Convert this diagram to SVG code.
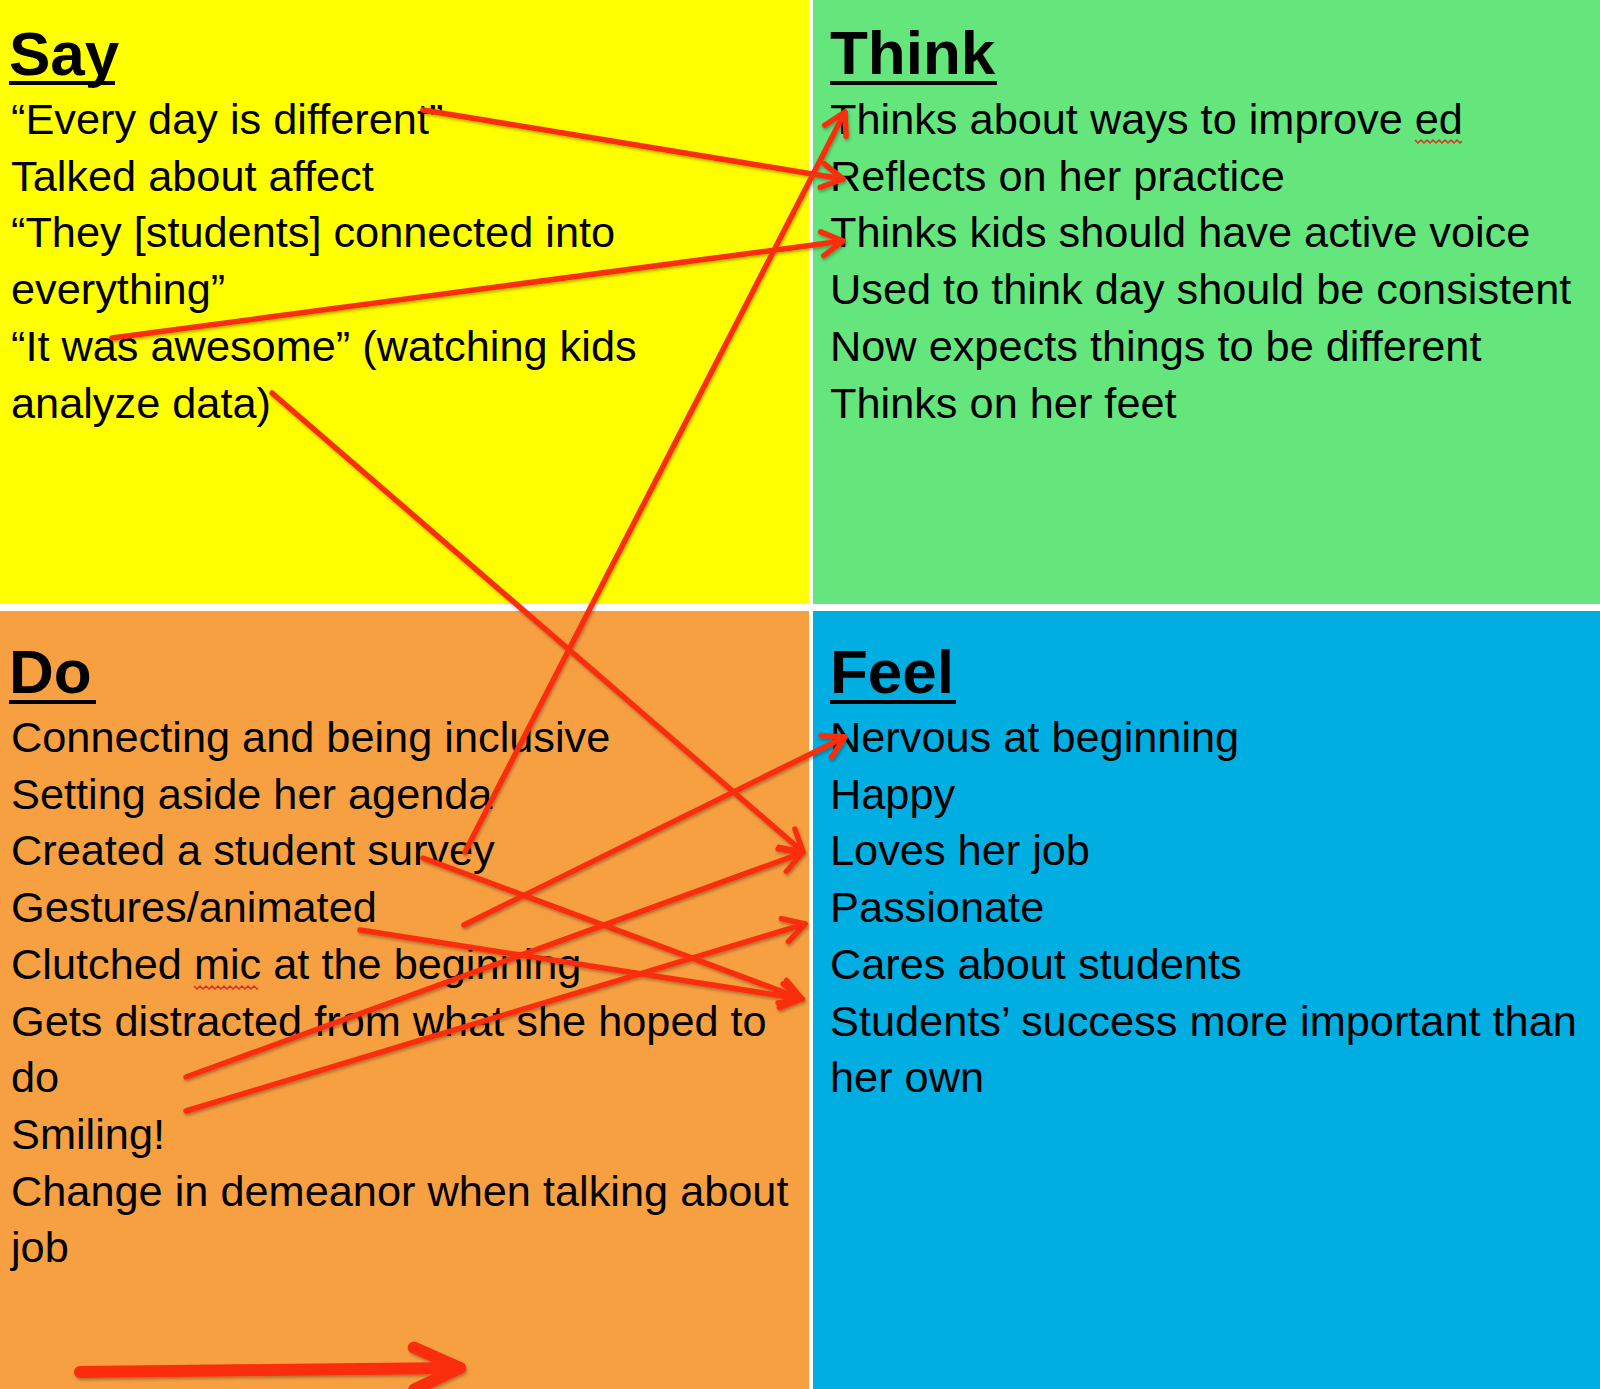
<svg xmlns="http://www.w3.org/2000/svg" width="1600" height="1389" viewBox="0 0 1600 1389">
<style>
.h{font-family:"Liberation Sans",Arial,sans-serif;font-weight:bold;font-size:62px;fill:#000}
.t{font-family:"Liberation Sans",Arial,sans-serif;font-size:43.3px;fill:#000}
.ul{stroke:#000;stroke-width:4}
.sq{fill:none;stroke:#E0301E;stroke-width:1.5}
.c{fill:none;stroke:#FA2E0E;stroke-width:5.5;stroke-linecap:round}
.big{fill:none;stroke:#FA2E0E;stroke-width:12;stroke-linecap:round}
</style>
<defs>
<marker id="ah" markerUnits="userSpaceOnUse" orient="auto" refX="0" refY="0" markerWidth="60" markerHeight="60" overflow="visible">
<path d="M-21,-12 L0,0 L-21,12" fill="none" stroke="#FA2E0E" stroke-width="5.5" stroke-linecap="round" stroke-linejoin="round"/>
</marker>
<marker id="ahBig" markerUnits="userSpaceOnUse" orient="auto" refX="0" refY="0" markerWidth="120" markerHeight="120" overflow="visible">
<path d="M-46,-21 L0,0 L-46,21" fill="none" stroke="#FA2E0E" stroke-width="12" stroke-linecap="round" stroke-linejoin="round"/>
</marker>
<filter id="sh" x="-10%" y="-10%" width="120%" height="120%">
<feDropShadow dx="1" dy="2" stdDeviation="1.5" flood-color="#000" flood-opacity="0.3"/>
</filter>
</defs>
<rect width="1600" height="1389" fill="#FFFFFF"/>

<g id="say">
<rect x="0" y="0" width="809" height="604" fill="#FFFF00"/>
<text class="h" x="9" y="75">Say</text>
<line class="ul" x1="9" y1="83" x2="115" y2="83"/>
<text class="t" x="11" y="134">“Every day is different”</text>
<text class="t" x="11" y="190.7">Talked about affect</text>
<text class="t" x="11" y="247.4">“They [students] connected into</text>
<text class="t" x="11" y="304.1">everything”</text>
<text class="t" x="11" y="360.8">“It was awesome” (watching kids</text>
<text class="t" x="11" y="417.5">analyze data)</text>
</g>

<g id="think">
<rect x="813" y="0" width="787" height="604" fill="#64E67C"/>
<text class="h" x="830" y="74">Think</text>
<line class="ul" x1="830" y1="83" x2="997" y2="83"/>
<text class="t" x="830" y="134">Thinks about ways to improve ed</text>
<path class="sq" d="M1415,140 l3,3 l3,-3 l3,3 l3,-3 l3,3 l3,-3 l3,3 l3,-3 l3,3 l3,-3 l3,3 l3,-3 l3,3 l3,-3 l3,3 l2,-2"/>
<text class="t" x="830" y="190.7">Reflects on her practice</text>
<text class="t" x="830" y="247.4">Thinks kids should have active voice</text>
<text class="t" x="830" y="304.1">Used to think day should be consistent</text>
<text class="t" x="830" y="360.8">Now expects things to be different</text>
<text class="t" x="830" y="417.5">Thinks on her feet</text>
</g>

<g id="do">
<rect x="0" y="611" width="809" height="778" fill="#F6A042"/>
<text class="h" x="9" y="693">Do</text>
<line class="ul" x1="9" y1="702" x2="96" y2="702"/>
<text class="t" x="11" y="752">Connecting and being inclusive</text>
<text class="t" x="11" y="808.7">Setting aside her agenda</text>
<text class="t" x="11" y="865.4">Created a student survey</text>
<text class="t" x="11" y="922.1">Gestures/animated</text>
<text class="t" x="11" y="978.8">Clutched mic at the beginning</text>
<path class="sq" d="M194,986 l3,3 l3,-3 l3,3 l3,-3 l3,3 l3,-3 l3,3 l3,-3 l3,3 l3,-3 l3,3 l3,-3 l3,3 l3,-3 l3,3 l3,-3 l3,3 l3,-3 l3,3 l3,-3 l3,3 l1,-1"/>
<text class="t" x="11" y="1035.5">Gets distracted from what she hoped to</text>
<text class="t" x="11" y="1092.2">do</text>
<text class="t" x="11" y="1148.9">Smiling!</text>
<text class="t" x="11" y="1205.6">Change in demeanor when talking about</text>
<text class="t" x="11" y="1262.3">job</text>
</g>

<g id="feel">
<rect x="813" y="611" width="787" height="778" fill="#00AEE1"/>
<text class="h" x="830" y="693">Feel</text>
<line class="ul" x1="830" y1="702" x2="956" y2="702"/>
<text class="t" x="830" y="752">Nervous at beginning</text>
<text class="t" x="830" y="808.7">Happy</text>
<text class="t" x="830" y="865.4">Loves her job</text>
<text class="t" x="830" y="922.1">Passionate</text>
<text class="t" x="830" y="978.8">Cares about students</text>
<text class="t" x="830" y="1035.5">Students’ success more important than</text>
<text class="t" x="830" y="1092.2">her own</text>
</g>

<g id="connectors" filter="url(#sh)">
<line class="c" x1="423" y1="110" x2="843" y2="179" marker-end="url(#ah)"/>
<line class="c" x1="112" y1="338" x2="843" y2="241" marker-end="url(#ah)"/>
<line class="c" x1="465" y1="852" x2="845" y2="112" marker-end="url(#ah)"/>
<line class="c" x1="272" y1="393" x2="803" y2="852" marker-end="url(#ah)"/>
<line class="c" x1="464" y1="925" x2="845" y2="737" marker-end="url(#ah)"/>
<line class="c" x1="423" y1="858" x2="802" y2="999" marker-end="url(#ah)"/>
<line class="c" x1="360" y1="930" x2="802" y2="999" marker-end="url(#ah)"/>
<line class="c" x1="186" y1="1077" x2="802" y2="853" marker-end="url(#ah)"/>
<line class="c" x1="186" y1="1111" x2="805" y2="924" marker-end="url(#ah)"/>
<line class="big" x1="80" y1="1372" x2="460" y2="1368" marker-end="url(#ahBig)"/>
</g>
</svg>
